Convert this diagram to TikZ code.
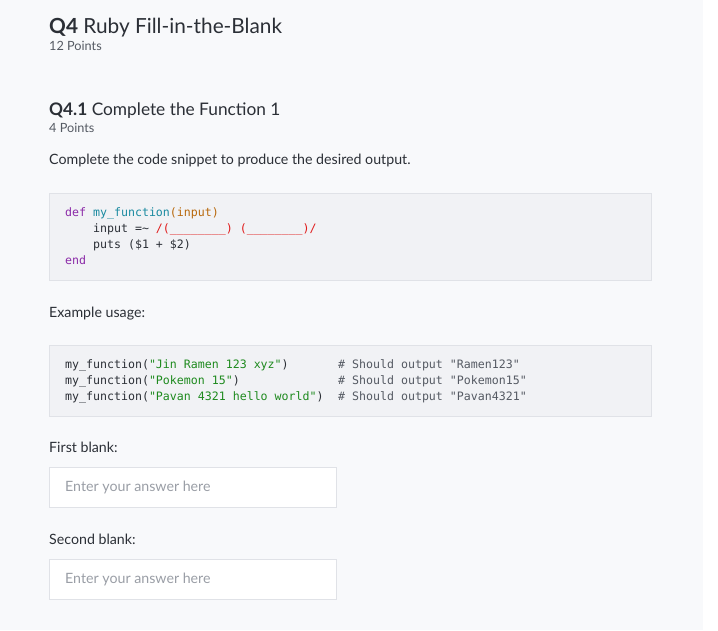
\documentclass[tikz,border=0pt]{standalone}
\usepackage{fontspec}
\setmainfont{Lato}
\setmonofont{DejaVu Sans Mono}
\definecolor{bg}{HTML}{F8F9FB}
\definecolor{codebg}{HTML}{F1F2F5}
\definecolor{codeline}{HTML}{E0E2E7}
\definecolor{txt}{HTML}{2B2F36}
\definecolor{sub}{HTML}{555A63}
\definecolor{kw}{HTML}{8B2AA8}
\definecolor{fn}{HTML}{1A8AA0}
\definecolor{par}{HTML}{B8680B}
\definecolor{rx}{HTML}{E01B1B}
\definecolor{str}{HTML}{1E8A1E}
\definecolor{cm}{HTML}{555A63}
\definecolor{ph}{HTML}{9A9EA6}
\begin{document}
\begin{tikzpicture}[x=1pt,y=-1pt,
  lbl/.style={anchor=base west,inner sep=0pt,text=txt},
  body/.style={lbl,font=\fontsize{14.2}{17}\selectfont},
  code/.style={anchor=base west,inner sep=0pt,text=txt,font=\ttfamily\fontsize{11.6}{14}\selectfont},
  codebox/.style={fill=codebg,draw=codeline,line width=0.8pt},
  inbox/.style={fill=white,draw=codeline,line width=0.8pt}]
\useasboundingbox (0,0) rectangle (718,630);
\fill[white] (0,0) rectangle (718,630);
\fill[bg] (0,0) rectangle (703,630);
\node[lbl,font=\fontsize{20.8}{24}\selectfont] (t1) at (49,33) {\textbf{Q4} Ruby Fill-in-the-Blank};
\node[lbl,text=sub,font=\fontsize{12.7}{14}\selectfont] (p1) at (49,50.5) {12 Points};
\node[lbl,font=\fontsize{17.3}{20}\selectfont] (t2) at (49,115) {\textbf{Q4.1} Complete the Function 1};
\node[lbl,text=sub,font=\fontsize{12.7}{14}\selectfont] (p2) at (49,132.5) {4 Points};
\node[body] (d) at (49,164.5) {Complete the code snippet to produce the desired output.};
\draw[codebox] (49.5,193.5) rectangle (651.5,280.5);
\node[code] (c1) at (65,216) {\textcolor{kw}{def} \textcolor{fn}{my\_function}\textcolor{par}{(input)}};
\node[code] (c2) at (65,232) {\ \ \ \ input =\~{} \textcolor{rx}{/(\_\_\_\_\_\_\_\_) (\_\_\_\_\_\_\_\_)/}};
\node[code] (c3) at (65,248) {\ \ \ \ puts (\$1 + \$2)};
\node[code] (c4) at (65,264) {\textcolor{kw}{end}};
\node[body] (e) at (49,317.5) {Example usage:};
\draw[codebox] (49.5,345.5) rectangle (651.5,416.5);
\node[code] (e1) at (65,368) {my\_function(\textcolor{str}{"Jin Ramen 123 xyz"})};
\node[code] (e2) at (65,384) {my\_function(\textcolor{str}{"Pokemon 15"})};
\node[code] (e3) at (65,400) {my\_function(\textcolor{str}{"Pavan 4321 hello world"})};
\node[code,text=cm] (m1) at (338,368) {\# Should output "Ramen123"};
\node[code,text=cm] (m2) at (338,384) {\# Should output "Pokemon15"};
\node[code,text=cm] (m3) at (338,400) {\# Should output "Pavan4321"};
\node[body] (f) at (49,452.5) {First blank:};
\draw[inbox] (49.5,467.5) rectangle (336.5,507.5);
\node[body,text=ph] (i1) at (65,491.5) {Enter your answer here};
\node[body] (s) at (49,544.5) {Second blank:};
\draw[inbox] (49.5,559.5) rectangle (336.5,599.5);
\node[body,text=ph] (i2) at (65,583.5) {Enter your answer here};
\end{tikzpicture}
\end{document}
